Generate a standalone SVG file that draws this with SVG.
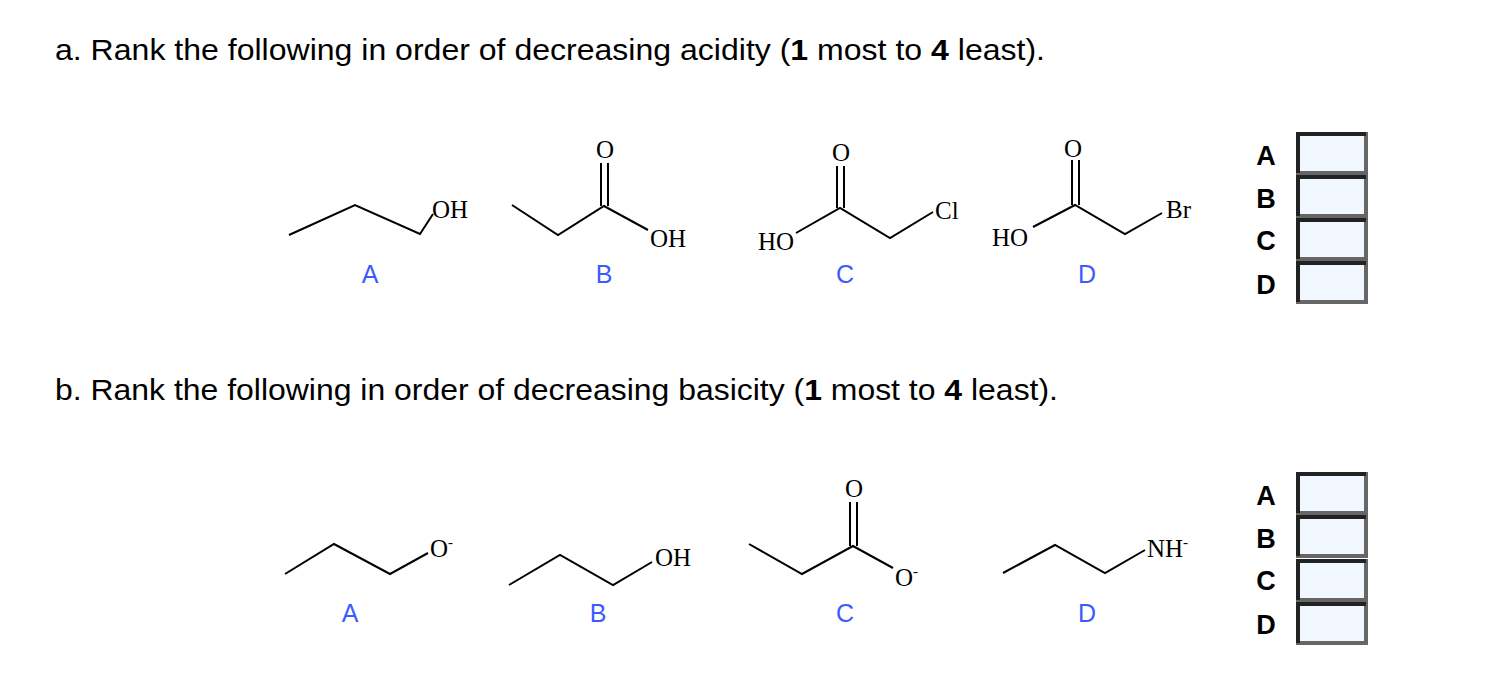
<svg xmlns="http://www.w3.org/2000/svg" width="1498" height="692" viewBox="0 0 1498 692">
<style>
.t{font-family:"Liberation Sans",Arial,sans-serif;font-size:30px;fill:#000}
.m{font-family:"Liberation Serif","Times New Roman",serif;font-size:25px;fill:#000}
.s{font-size:15px}
.l{font-family:"Liberation Sans",Arial,sans-serif;font-size:25px;fill:#3d5afe;text-anchor:middle}
.k{font-family:"Liberation Sans",Arial,sans-serif;font-size:27px;font-weight:bold;fill:#000;text-anchor:middle}
.b{fill:none;stroke:#000;stroke-width:2}
.box{fill:#f0f7ff;stroke:#666;stroke-width:4}
.bt{fill:none;stroke:#222;stroke-width:4}
</style>
<defs>
<g id="bx"><rect class="box" x="0" y="0" width="68" height="39"/><polyline class="bt" points="0,39 0,0 68,0"/></g>
</defs>
<rect width="1498" height="692" fill="#fff"/>
<text class="t" x="55" y="60" textLength="990" lengthAdjust="spacingAndGlyphs">a. Rank the following in order of decreasing acidity (<tspan font-weight="bold">1</tspan> most to <tspan font-weight="bold">4</tspan> least).</text>
<text class="t" x="55" y="400" textLength="1003" lengthAdjust="spacingAndGlyphs">b. Rank the following in order of decreasing basicity (<tspan font-weight="bold">1</tspan> most to <tspan font-weight="bold">4</tspan> least).</text>
<g id="aA"><polyline class="b" points="289,235 355,205 420,234 433,214"/><text class="m" x="432" y="218">OH</text><text class="l" x="370" y="283">A</text></g>
<g id="aB"><polyline class="b" points="512,205 558,235 604,206 648,230"/><line class="b" x1="601" y1="206" x2="601" y2="163"/><line class="b" x1="608" y1="206" x2="608" y2="163"/><text class="m" x="596" y="158">O</text><text class="m" x="650" y="247">OH</text><text class="l" x="604" y="283">B</text></g>
<g id="aC"><polyline class="b" points="796,233 840,208 890,238 933,212"/><line class="b" x1="837" y1="208" x2="837" y2="166"/><line class="b" x1="844" y1="208" x2="844" y2="166"/><text class="m" x="832" y="161">O</text><text class="m" x="758" y="250">HO</text><text class="m" x="935" y="219">Cl</text><text class="l" x="845" y="283">C</text></g>
<g id="aD"><polyline class="b" points="1033,227 1075,205 1125,234 1162,213"/><line class="b" x1="1072" y1="205" x2="1072" y2="160"/><line class="b" x1="1079" y1="205" x2="1079" y2="160"/><text class="m" x="1064" y="157">O</text><text class="m" x="992" y="246">HO</text><text class="m" x="1166" y="218">Br</text><text class="l" x="1087" y="283">D</text></g>
<g id="bA"><polyline class="b" points="285,574 334,544 390,574 428,553"/><text class="m" x="430" y="557">O<tspan class="s" dy="-10">-</tspan></text><text class="l" x="350" y="622">A</text></g>
<g id="bB"><polyline class="b" points="509,585 560,555 613,585 652,562"/><text class="m" x="655" y="566">OH</text><text class="l" x="598" y="622">B</text></g>
<g id="bC"><polyline class="b" points="749,544 802,574 853,546 893,568"/><line class="b" x1="850" y1="546" x2="850" y2="502"/><line class="b" x1="857" y1="546" x2="857" y2="502"/><text class="m" x="845" y="497">O</text><text class="m" x="895" y="586">O<tspan class="s" dy="-10">-</tspan></text><text class="l" x="845" y="622">C</text></g>
<g id="bD"><polyline class="b" points="1003,573 1055,545 1105,573 1145,550"/><text class="m" x="1147" y="557">NH<tspan class="s" dy="-10">-</tspan></text><text class="l" x="1087" y="622">D</text></g>
<g id="ranka">
<text class="k" x="1266" y="165">A</text><text class="k" x="1266" y="208">B</text><text class="k" x="1266" y="250">C</text><text class="k" x="1266" y="294">D</text>
<use href="#bx" x="1298" y="134"/><use href="#bx" x="1298" y="177"/><use href="#bx" x="1298" y="220"/><use href="#bx" x="1298" y="263"/>
</g>
<g id="rankb">
<text class="k" x="1266" y="505">A</text><text class="k" x="1266" y="548">B</text><text class="k" x="1266" y="590">C</text><text class="k" x="1266" y="634">D</text>
<use href="#bx" x="1298" y="474"/><use href="#bx" x="1298" y="517"/><use href="#bx" x="1298" y="561"/><use href="#bx" x="1298" y="604"/>
</g>
<g id="connectors"/>
</svg>
